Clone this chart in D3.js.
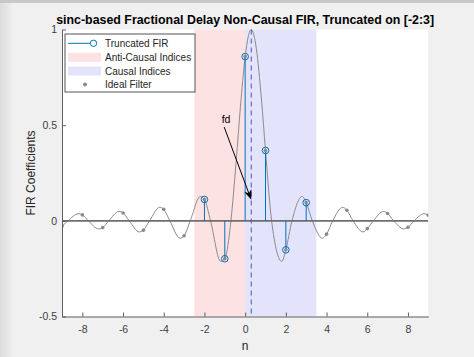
<!DOCTYPE html>
<html><head><meta charset="utf-8">
<script src="https://cdn.jsdelivr.net/npm/d3@7"></script>
<style>html,body{margin:0;padding:0;background:#f0f0f0;}svg{display:block;}</style>
</head><body>
<svg id="chart" width="474" height="357"></svg>
<script>
// ---- data ----
const titleText = "sinc-based Fractional Delay Non-Causal FIR, Truncated on [-2:3]";
const xLabel = "n";
const yLabel = "FIR Coefficients";
const xTicks = [-8, -6, -4, -2, 0, 2, 4, 6, 8];
const yTicks = [-0.5, 0, 0.5, 1];
const xDomain = [-9, 9];
const yDomain = [-0.5, 1];
const fd = 0.3;
const antiCausalSpan = [-2.5, 0];
const causalSpan = [0, 3.5];
// truncated FIR (stems)
const firN = [-2, -1, 0, 1, 2, 3];
const firH = [0.1120, -0.1981, 0.8584, 0.3679, -0.1515, 0.0954];
// ideal filter samples (dots)
const idealN = [-9, -8, -7, -6, -5, -4, -3, -2, -1, 0, 1, 2, 3, 4, 5, 6, 7, 8, 9];
const idealH = [-0.0277, 0.0310, -0.0353, 0.0409, -0.0486, 0.0599, -0.0780, 0.1120, -0.1981, 0.8584,
                0.3679, -0.1515, 0.0954, -0.0696, 0.0548, -0.0409, 0.0384, -0.0334, 0.0296];
// ideal filter continuous curve (read points)
const curveT = [-9,-8.7,-8.2,-8,-7.7,-7.2,-7,-6.7,-6.2,-6,-5.7,-5.2,-5,-4.7,-4.2,-4,-3.7,-3.2,-3,-2.7,-2.2,-2,-1.7,-1.2,-1,-0.7,-0.45,-0.2,0,0.3,0.55,0.8,1,1.3,1.8,2,2.3,2.8,3,3.3,3.8,4,4.3,4.8,5,5.3,5.8,6,6.3,6.8,7,7.3,7.8,8,8.3,8.8,9];
const curveV = [-0.0277,0,0.0374,0.0310,0,-0.0424,-0.0353,0,0.0490,0.0409,0,-0.0579,-0.0486,0,0.0707,0.0599,0,-0.0909,-0.0780,0,0.1273,0.1120,0,-0.2122,-0.1981,0,0.3001,0.6366,0.8584,1,0.9003,0.6366,0.3679,0,-0.2122,-0.1515,0,0.1273,0.0954,0,-0.0909,-0.0696,0,0.0707,0.0548,0,-0.0579,-0.0409,0,0.0490,0.0384,0,-0.0424,-0.0334,0,0.0374,0.0296];
// annotation arrow (data coords): from -> to
const arrowFrom = [-1.03, 0.49];
const arrowTo = [0.3, 0.11];
const arrowLabel = "fd";
const arrowLabelPos = [-0.94, 0.53];
const legendItems = ["Truncated FIR", "Anti-Causal Indices", "Causal Indices", "Ideal Filter"];

// ---- layout ----
const W = 474, H = 357;
const L = 62, R = 428.3, T = 29.5, B = 316.5;
const FIRBLUE = "#0072BD", GRAY = "#8a8a8a";
const PINK = "#fde2e4", LAV = "#e3e3fc";

const svg = d3.select("#chart");
const defs = svg.append("defs");
const lg = defs.append("linearGradient").attr("id", "lgrad").attr("x1", 0).attr("x2", 1).attr("y1", 0).attr("y2", 0);
lg.append("stop").attr("offset", 0).attr("stop-color", "#dcdcdc");
lg.append("stop").attr("offset", 1).attr("stop-color", "#f0f0f0");

svg.append("rect").attr("width", W).attr("height", H).attr("fill", "#f0f0f0");
svg.append("rect").attr("width", 14).attr("height", H).attr("fill", "url(#lgrad)");
svg.append("rect").attr("width", W).attr("height", 3).attr("fill", "#c8c8c8");

const x = d3.scaleLinear().domain(xDomain).range([L, R]);
const y = d3.scaleLinear().domain(yDomain).range([B, T]);

// plot background
svg.append("rect").attr("x", L).attr("y", T).attr("width", R - L).attr("height", B - T).attr("fill", "#fff");

// shaded regions
svg.append("rect").attr("x", x(antiCausalSpan[0])).attr("y", T)
  .attr("width", x(antiCausalSpan[1]) - x(antiCausalSpan[0])).attr("height", B - T).attr("fill", PINK);
svg.append("rect").attr("x", x(causalSpan[0])).attr("y", T)
  .attr("width", x(causalSpan[1]) - x(causalSpan[0])).attr("height", B - T).attr("fill", LAV);

// clip
defs.append("clipPath").attr("id", "clip").append("rect").attr("x", L).attr("y", T - 1).attr("width", R - L).attr("height", B - T + 2);
const plot = svg.append("g").attr("clip-path", "url(#clip)");

// ideal curve
const curveData = curveT.map((t, i) => [t, curveV[i]]);
plot.append("path").datum(curveData)
  .attr("d", d3.line().x(d => x(d[0])).y(d => y(d[1])).curve(d3.curveMonotoneX))
  .attr("fill", "none").attr("stroke", GRAY).attr("stroke-width", 1);

// baseline
plot.append("line").attr("x1", L).attr("x2", R).attr("y1", y(0)).attr("y2", y(0))
  .attr("stroke", "#6e6e6e").attr("stroke-width", 1.6);

// fd dashed line
plot.append("line").attr("x1", x(fd)).attr("x2", x(fd)).attr("y1", T).attr("y2", B)
  .attr("stroke", "#5050b8").attr("stroke-width", 1).attr("stroke-dasharray", "5,4");

// stems
const firData = firN.map((n, i) => [n, firH[i]]);
plot.selectAll(".stem").data(firData).enter().append("line")
  .attr("x1", d => x(d[0])).attr("x2", d => x(d[0]))
  .attr("y1", y(0)).attr("y2", d => y(d[1]))
  .attr("stroke", FIRBLUE).attr("stroke-width", 1);

// ideal dots
const idealData = idealN.map((n, i) => [n, idealH[i]]);
plot.selectAll(".idot").data(idealData).enter().append("circle")
  .attr("cx", d => x(d[0])).attr("cy", d => y(d[1])).attr("r", 1.8).attr("fill", GRAY);

// stem markers
plot.selectAll(".mk").data(firData).enter().append("circle")
  .attr("cx", d => x(d[0])).attr("cy", d => y(d[1])).attr("r", 3.3)
  .attr("fill", "none").attr("stroke", FIRBLUE).attr("stroke-width", 1);

// axes
const axisColor = "#5e5e5e", textColor = "#404040";
const gx = svg.append("g").attr("transform", `translate(0,${B})`)
  .call(d3.axisBottom(x).tickValues(xTicks).tickFormat(d => d).tickSizeInner(-4).tickSizeOuter(0).tickPadding(9));
const gy = svg.append("g").attr("transform", `translate(${L},0)`)
  .call(d3.axisLeft(y).tickValues(yTicks).tickFormat(d => d).tickSizeInner(-4).tickSizeOuter(0).tickPadding(5));
[gx, gy].forEach(g => {
  g.select(".domain").attr("stroke", axisColor).attr("stroke-width", 1);
  g.selectAll(".tick line").attr("stroke", axisColor);
  g.selectAll(".tick text").attr("fill", textColor).attr("font-family", "Liberation Sans, Arial, sans-serif").attr("font-size", 10.5);
});

// annotation arrow
const ax0 = x(arrowFrom[0]), ay0 = y(arrowFrom[1]), ax1 = x(arrowTo[0]), ay1 = y(arrowTo[1]);
const ang = Math.atan2(ay1 - ay0, ax1 - ax0);
const hl = 10, hw = 3.8;
const bx = ax1 - hl * Math.cos(ang), by = ay1 - hl * Math.sin(ang);
const ix = ax1 - 0.7 * hl * Math.cos(ang), iy = ay1 - 0.7 * hl * Math.sin(ang);
svg.append("line").attr("x1", ax0).attr("y1", ay0).attr("x2", ix).attr("y2", iy)
  .attr("stroke", "#000").attr("stroke-width", 1);
svg.append("path").attr("d", `M${ax1},${ay1} L${bx + hw * Math.sin(ang)},${by - hw * Math.cos(ang)} L${ix},${iy} L${bx - hw * Math.sin(ang)},${by + hw * Math.cos(ang)} Z`)
  .attr("fill", "#000");
svg.append("text").attr("x", x(arrowLabelPos[0])).attr("y", y(arrowLabelPos[1]))
  .attr("text-anchor", "middle").attr("dominant-baseline", "central")
  .attr("font-family", "Liberation Sans, Arial, sans-serif").attr("font-size", 10.5).attr("fill", "#000")
  .text(arrowLabel);

// title and labels
svg.append("text").attr("x", (L + R) / 2).attr("y", 23.5).attr("text-anchor", "middle")
  .attr("font-family", "Liberation Sans, Arial, sans-serif").attr("font-weight", "bold").attr("font-size", 12.4)
  .attr("fill", "#000").text(titleText);
svg.append("text").attr("x", (L + R) / 2).attr("y", 350).attr("text-anchor", "middle")
  .attr("font-family", "Liberation Sans, Arial, sans-serif").attr("font-size", 12)
  .attr("fill", "#262626").text(xLabel);
svg.append("text").attr("transform", `translate(35,${(T + B) / 2}) rotate(-90)`).attr("text-anchor", "middle")
  .attr("font-family", "Liberation Sans, Arial, sans-serif").attr("font-size", 12)
  .attr("fill", "#262626").text(yLabel);

// legend
const leg = svg.append("g");
leg.append("rect").attr("x", 65).attr("y", 34).attr("width", 130).attr("height", 58)
  .attr("fill", "#fff").attr("stroke", "#555").attr("stroke-width", 1);
const rowY = [43.3, 57.3, 71, 84.5];
leg.append("line").attr("x1", 68).attr("x2", 93).attr("y1", rowY[0]).attr("y2", rowY[0]).attr("stroke", FIRBLUE).attr("stroke-width", 1);
leg.append("circle").attr("cx", 93.5).attr("cy", rowY[0]).attr("r", 3.2).attr("fill", "#fff").attr("stroke", FIRBLUE).attr("stroke-width", 1);
leg.append("rect").attr("x", 68).attr("y", rowY[1] - 4.5).attr("width", 33).attr("height", 9).attr("fill", PINK);
leg.append("rect").attr("x", 68).attr("y", rowY[2] - 4.5).attr("width", 33).attr("height", 9).attr("fill", LAV);
leg.append("circle").attr("cx", 85).attr("cy", rowY[3]).attr("r", 2).attr("fill", GRAY);
leg.selectAll(".lt").data(legendItems).enter().append("text")
  .attr("x", 105).attr("y", (d, i) => rowY[i]).attr("dominant-baseline", "central")
  .attr("font-family", "Liberation Sans, Arial, sans-serif").attr("font-size", 10)
  .attr("fill", "#262626").text(d => d);
</script>
</body></html>
